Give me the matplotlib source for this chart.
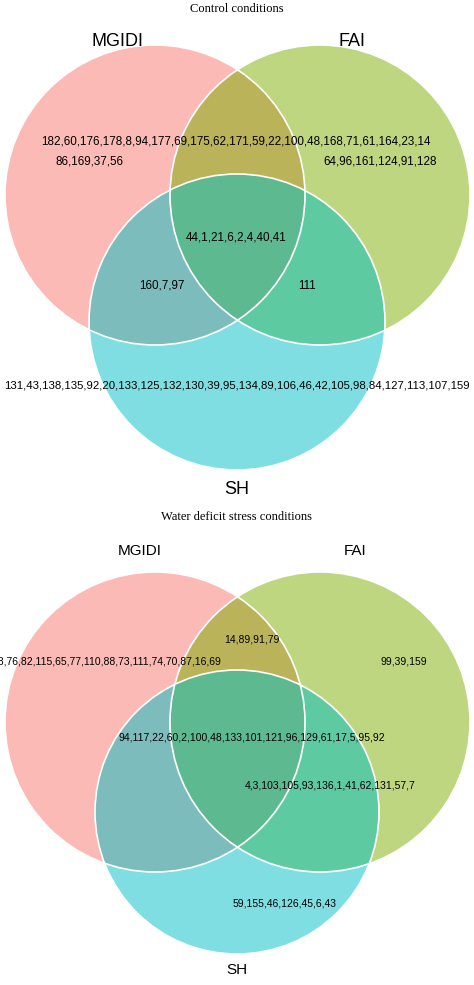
import matplotlib.pyplot as plt
from matplotlib.patches import Circle

# set names and region labels for both panels
sets = ["MGIDI", "FAI", "SH"]
colors = ["#F8766D", "#7CAE00", "#00BFC4"]

ctrl_title = "Control conditions"
ctrl_labels = [
    "182,60,176,178,8,94,177,69,175,62,171,59,22,100,48,168,71,61,164,23,14",
    "86,169,37,56",
    "64,96,161,124,91,128",
    "44,1,21,6,2,4,40,41",
    "160,7,97",
    "111",
    "131,43,138,135,92,20,133,125,132,130,39,95,134,89,106,46,42,105,98,84,127,113,107,159",
]

wd_title = "Water deficit stress conditions"
wd_labels = [
    "14,89,91,79",
    "68,76,82,115,65,77,110,88,73,111,74,70,87,16,69",
    "99,39,159",
    "94,117,22,60,2,100,48,133,101,121,96,129,61,17,5,95,92",
    "4,3,103,105,93,136,1,41,62,131,57,7",
    "59,155,46,126,45,6,43",
]

W, H = 474, 985
fig = plt.figure(figsize=(W / 100, H / 100), dpi=100)
ax = fig.add_axes([0, 0, 1, 1])
ax.set_xlim(0, W)
ax.set_ylim(H, 0)
ax.axis("off")

sans = ["Liberation Sans", "DejaVu Sans"]
serif = ["Liberation Serif", "DejaVu Serif"]


def venn(centers, radii):
    for (cx, cy), r, c in zip(centers, radii, colors):
        ax.add_patch(Circle((cx, cy), r, facecolor=c, alpha=0.5, edgecolor="none"))
    for (cx, cy), r in zip(centers, radii):
        ax.add_patch(Circle((cx, cy), r, facecolor="none", edgecolor="white", lw=1.2))


# ---------------- control panel ----------------
venn([(155, 195), (320, 195), (237, 322)], [150, 150, 148])
ax.text(237, 9, ctrl_title, ha="center", va="center", fontsize=9, family=serif)
ax.text(118, 42, sets[0], ha="center", va="center", fontsize=13, family=sans)
ax.text(352, 42, sets[1], ha="center", va="center", fontsize=13, family=sans)
ax.text(237, 490, sets[2], ha="center", va="center", fontsize=13, family=sans)
pos = [(236, 141), (90, 162), (380, 162), (236, 237), (162, 286), (307, 286), (237, 385)]
for (x, y), t in zip(pos, ctrl_labels):
    ax.text(x, y, t, ha="center", va="center", fontsize=8.2 if len(t) > 80 else 8.4, family=sans)

# ---------------- water deficit panel ----------------
venn([(155, 722), (320, 722), (237, 812)], [150, 150, 142])
ax.text(237, 517, wd_title, ha="center", va="center", fontsize=9, family=serif)
ax.text(140, 551, sets[0], ha="center", va="center", fontsize=11, family=sans)
ax.text(355, 551, sets[1], ha="center", va="center", fontsize=11, family=sans)
ax.text(237, 970, sets[2], ha="center", va="center", fontsize=11, family=sans)
pos = [(252, 640), (107, 661), (404, 661), (252, 738), (330, 786), (285, 904)]
for (x, y), t in zip(pos, wd_labels):
    ax.text(x, y, t, ha="center", va="center", fontsize=7.5, family=sans)

fig.savefig("out.png", dpi=100)
